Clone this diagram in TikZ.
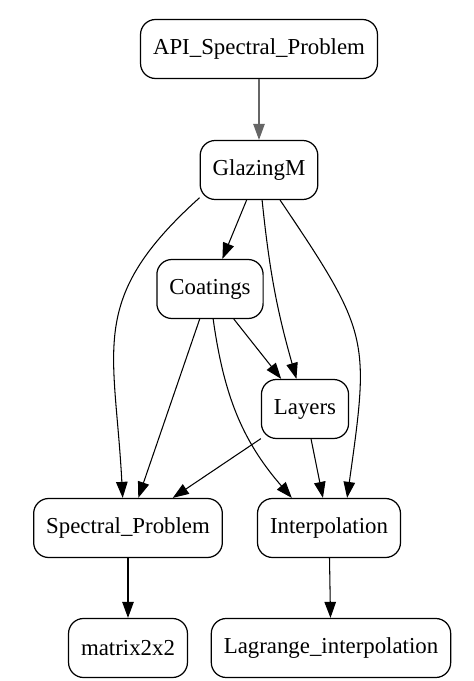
\documentclass[tikz,border=0pt]{standalone}
\usepackage{fontspec}
\setmainfont{Liberation Serif}
\usetikzlibrary{arrows.meta}
\tikzset{
  module/.style={draw, line width=.7pt, rounded corners=.3cm, minimum height=1.18cm, inner xsep=.25cm, font=\fontsize{13}{15}\selectfont},
  dep/.style={-{Triangle[length=3.2mm,width=2.3mm]}, line width=.6pt}
}
\begin{document}
\begin{tikzpicture}
  \useasboundingbox (0,0) rectangle (9.48,13.62);
  \node[module] (api) at (5.18,12.64) {API\_Spectral\_Problem};
  \node[module] (glazing) at (5.18,10.22) {GlazingM};
  \node[module] (coatings) at (4.20,7.84) {Coatings};
  \node[module] (layers) at (6.10,5.44) {Layers};
  \node[module] (spectral) at (2.56,3.06) {Spectral\_Problem};
  \node[module] (interp) at (6.58,3.06) {Interpolation};
  \node[module] (matrix) at (2.56,0.66) {matrix2x2};
  \node[module] (lagrange) at (6.62,0.66) {Lagrange\_interpolation};
  \draw[dep, draw=black!60] (api) -- (glazing);
  \draw[dep] (glazing) -- (coatings);
  \draw[dep] (glazing) to[bend right=5] (layers);
  \draw[dep] (glazing.-55) to[out=-56, in=82, looseness=1.35] (interp.59);
  \draw[dep] (glazing.205) to[out=-138, in=93, looseness=1.25] (spectral.100);
  \draw[dep] (coatings) -- (spectral);
  \draw[dep] (coatings) -- (layers);
  \draw[dep] (coatings.-84) to[out=-82, in=131] (interp.141);
  \draw[dep] (layers) -- (spectral);
  \draw[dep] (layers) -- (interp);
  \draw[dep] (spectral) -- (matrix);
  \draw[dep] (interp) -- (lagrange);
\end{tikzpicture}
\end{document}
